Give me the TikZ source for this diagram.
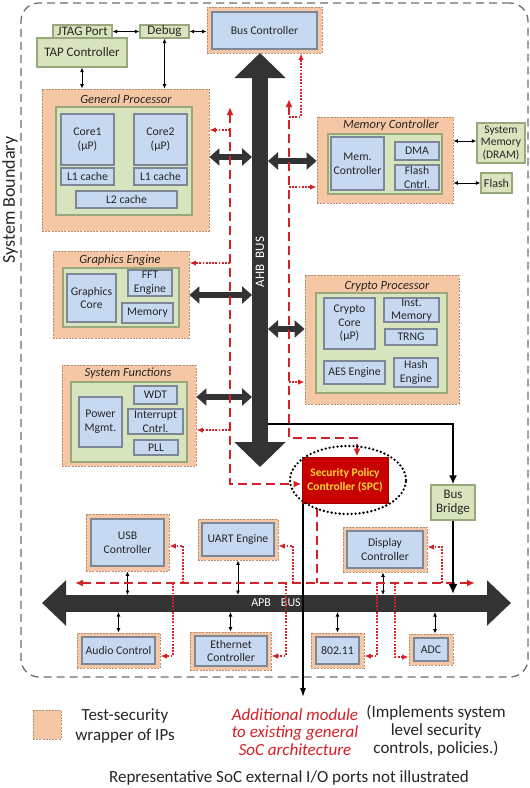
\documentclass[tikz,border=0pt]{standalone}
\usepackage{fontspec}
\setmainfont{Carlito}
\usetikzlibrary{arrows.meta,shapes.geometric}
\definecolor{wrapfill}{HTML}{F6C7A4}
\definecolor{wrapdraw}{HTML}{B48F74}
\definecolor{grnfill}{HTML}{D7E4BD}
\definecolor{grndraw}{HTML}{98A77C}
\definecolor{bluefill}{HTML}{C6D9F1}
\definecolor{bluedraw}{HTML}{7D8795}
\definecolor{busdark}{HTML}{333333}
\definecolor{secred}{HTML}{D42027}
\definecolor{spcred}{HTML}{C80000}
\definecolor{spcyel}{HTML}{FFD731}
\definecolor{txt}{HTML}{262626}
\definecolor{sysgray}{HTML}{707070}
\newcommand\bx[7]{\node[#1, minimum width={#5-#3}, minimum height={#6-#4}] (#2) at ({(#3+#5)/2},{(#4+#6)/2}) {#7};}
\begin{document}
\begin{tikzpicture}[x=1pt,y=-1pt,
  sysb/.style={draw=sysgray, line width=1.3pt, dash pattern=on 8pt off 5pt, rounded corners=18pt, inner sep=0pt},
  wrap/.style={draw=wrapdraw, fill=wrapfill, line width=0.9pt, dash pattern=on 2pt off 1.2pt, inner sep=0pt},
  ing/.style={draw=grndraw, fill=grnfill, line width=1.2pt, inner sep=0pt},
  blu/.style={draw=bluedraw, fill=bluefill, line width=1.2pt, inner sep=0pt, align=center, text=txt, font=\fontsize{11.7}{13.6}\selectfont},
  grn/.style={draw=grndraw, fill=grnfill, line width=1.2pt, inner sep=0pt, align=center, text=txt, font=\fontsize{13}{14.5}\selectfont},
  ttl/.style={text=txt, font=\fontsize{12.5}{14}\selectfont\itshape, inner sep=0pt},
  fat/.style={draw=busdark, line width=6pt, {Triangle[width=17pt,length=10pt]}-{Triangle[width=17pt,length=10pt]}},
  ahb/.style={draw=busdark, line width=16pt, {Triangle[width=50pt,length=25pt]}-{Triangle[width=50pt,length=25pt]}},
  apb/.style={draw=busdark, line width=17pt, {Triangle[width=44pt,length=24pt]}-{Triangle[width=44pt,length=24pt]}},
  buslbl/.style={text=white, inner sep=0pt},
  dbl/.style={draw=black, line width=0.9pt, {Latex[length=4.5pt,width=4pt]}-{Latex[length=4.5pt,width=4pt]}},
  rdash/.style={draw=secred, line width=1.6pt, dash pattern=on 9pt off 5pt},
  rdot/.style={draw=secred, line width=1.4pt, dash pattern=on 1.8pt off 1.4pt},
  rtip/.style={-{Latex[length=6.5pt,width=5.5pt]}},
  rtips/.style={{Latex[length=8pt,width=7pt]}-{Latex[length=8pt,width=7pt]}},
  spcbox/.style={draw=spcred!80!black, fill=spcred, line width=1pt, inner sep=0pt, align=center, text=spcyel, font=\fontsize{11.5}{14}\selectfont\bfseries},
  legtxt/.style={text=txt, align=center, inner sep=0pt, font=\fontsize{17}{19}\selectfont}]
\useasboundingbox (0,0) rectangle (530,788);
\fill[white] (0,0) rectangle (530,788);

% system boundary
\bx{sysb}{sysbound}{21}{3}{528}{677}{}
\node[rotate=90, text=txt, inner sep=0pt, font=\fontsize{18}{20}\selectfont] (sysblabel) at (10,200) {System Boundary};

% JTAG / TAP / Debug
\bx{grn}{tap}{37}{38}{127}{67}{TAP Controller}
\bx{grn}{jtag}{53}{25}{112}{38}{JTAG Port}
\bx{grn}{debug}{140}{25}{189}{38}{Debug}

% Bus controller
\bx{wrap}{bcw}{207}{7}{322}{53}{}
\bx{blu}{bc}{212}{12}{317}{49}{Bus Controller}

% General processor
\bx{wrap}{gpw}{42}{89}{209}{231}{}
\node[ttl] (gpt) at (126,99) {General Processor};
\bx{ing}{gpg}{56}{107}{192}{215}{}
\bx{blu}{core1}{61}{114}{114}{165}{Core1\\(µP)}
\bx{blu}{core2}{134}{114}{187}{165}{Core2\\(µP)}
\bx{blu}{l1a}{61}{168}{114}{185}{L1 cache}
\bx{blu}{l1b}{134}{168}{187}{185}{L1 cache}
\bx{blu}{l2}{76}{191}{177}{208}{L2 cache}

% Memory controller
\bx{wrap}{mcw}{317}{117}{453}{203}{}
\node[ttl] (mct) at (391,125) {Memory Controller};
\bx{ing}{mcg}{328}{134}{442}{194}{}
\bx{blu}{memc}{331}{137}{384}{190}{Mem.\\Controller}
\bx{blu}{dma}{395}{142}{439}{160}{DMA}
\bx{blu}{flc}{395}{165}{439}{190}{Flash\\Cntrl.}
\bx{grn, font=\fontsize{11.5}{12.8}\selectfont}{dram}{477}{123}{525}{163}{System\\Memory\\(DRAM)}
\bx{grn, font=\fontsize{12}{13}\selectfont}{flash}{481}{173}{512}{193}{Flash}

% Graphics engine
\bx{wrap}{gew}{53}{251}{189}{338}{}
\node[ttl] (get) at (120,260) {Graphics Engine};
\bx{ing}{geg}{63}{268}{179}{327}{}
\bx{blu}{gcore}{67}{274}{116}{322}{Graphics\\Core}
\bx{blu}{fft}{128}{270}{172}{296}{FFT\\Engine}
\bx{blu}{gmem}{122}{303}{173}{323}{Memory}

% Crypto processor
\bx{wrap}{cpw}{305}{275}{459}{404}{}
\node[ttl] (cpt) at (387,286) {Crypto Processor};
\bx{ing}{cpg}{316}{293}{447}{393}{}
\bx{blu}{ccore}{324}{298}{375}{349}{Crypto\\Core\\(µP)}
\bx{blu}{imem}{384}{298}{439}{322}{Inst.\\Memory}
\bx{blu}{trng}{385}{329}{437}{345}{TRNG}
\bx{blu}{aes}{324}{361}{385}{384}{AES Engine}
\bx{blu}{hash}{394}{358}{438}{387}{Hash\\Engine}

% System functions
\bx{wrap}{sfw}{62}{365}{196}{466}{}
\node[ttl] (sft) at (128,373) {System Functions};
\bx{ing}{sfg}{71}{382}{187}{462}{}
\bx{blu}{pwr}{79}{397}{122}{447}{Power\\Mgmt.}
\bx{blu}{wdt}{134}{386}{177}{404}{WDT}
\bx{blu}{intc}{128}{409}{183}{434}{Interrupt\\Cntrl.}
\bx{blu}{pll}{134}{440}{178}{455}{PLL}

% APB peripherals
\bx{wrap}{usbw}{86}{514}{169}{571}{}
\bx{blu}{usb}{91}{519}{164}{566}{USB\\Controller}
\bx{wrap}{uartw}{198}{519}{278}{560}{}
\bx{blu}{uart}{202}{523}{274}{556}{UART Engine}
\bx{wrap}{dispw}{343}{527}{427}{572}{}
\bx{blu}{disp}{347}{531}{423}{568}{Display\\Controller}
\bx{wrap}{audw}{77}{633}{160}{668}{}
\bx{blu}{aud}{82}{637}{155}{664}{Audio Control}
\bx{wrap}{ethw}{190}{632}{271}{670}{}
\bx{blu}{eth}{195}{636}{267}{666}{Ethernet\\Controller}
\bx{wrap}{wifiw}{311}{633}{364}{668}{}
\bx{blu}{wifi}{316}{637}{359}{664}{802.11}
\bx{wrap}{adcw}{409}{634}{453}{665}{}
\bx{blu}{adc}{414}{638}{448}{661}{ADC}

% SPC and bus bridge
\bx{spcbox}{spc}{302}{457}{388}{503}{Security Policy\\Controller (SPC)}
\bx{grn}{bridge}{431}{485}{475}{520}{Bus\\Bridge}

% buses
\coordinate (ahbtop) at (260,53);
\coordinate (ahbbot) at (260,467);
\draw[ahb] (ahbtop) -- (ahbbot);
\node[buslbl, rotate=90, font=\fontsize{13}{14}\selectfont] (ahbl) at (260,262) {AHB\hspace{6pt}BUS};
\coordinate (apbl) at (42,603);
\coordinate (apbr) at (511,603);
\draw[apb] (apbl) -- (apbr);
\node[buslbl, font=\fontsize{12}{13}\selectfont] (apbt) at (276,603) {APB\hspace{10pt}BUS};

% fat arrows IP <-> AHB
\draw[fat] (gpw.east |- 0,157) -- (252,157);
\draw[fat] (268,161) -- (mcw.west |- 0,161);
\draw[fat] (gew.east |- 0,295) -- (252,295);
\draw[fat] (268,329) -- (cpw.west |- 0,329);
\draw[fat] (sfw.east |- 0,397) -- (252,397);

% thin black double arrows
\draw[dbl] (jtag.east) -- (debug.west);
\draw[dbl] (debug.east) -- (bcw.west |- debug.east);
\draw[dbl] (tap.south) -- (tap.south |- gpw.north);
\draw[dbl] (debug.south) -- (debug.south |- gpw.north);
\draw[dbl] (mcw.east |- 0,141) -- (dram.west |- 0,141);
\draw[dbl] (mcw.east |- flash.west) -- (flash.west);
\draw[dbl] (usbw.south) -- (usbw.south |- 0,595);
\draw[dbl] (uartw.south) -- (uartw.south |- 0,595);
\draw[dbl] (383,0 |- dispw.south) -- (383,595);
\draw[dbl] (audw.north |- 0,612) -- (audw.north);
\draw[dbl] (ethw.north |- 0,612) -- (ethw.north);
\draw[dbl] (wifiw.north |- 0,612) -- (wifiw.north);
\draw[dbl] (435,612) -- (435,0 |- adcw.north);

% red security lines
\draw[rdash, rtips] (230,107) -- (230,484) -- (spc.west |- 0,484);
\draw[rdash, rtips] (289,99) -- (289,438) -- (357,438) -- (357,0 |- spc.north);
\draw[rdash, rtips] (75,583) -- (475,583);
\draw[rdash] (317,508) -- (317,583);

\draw[rdot, rtip] (230,130) -- (gpw.east |- 0,130);
\draw[rdot, rtip] (289,117) -- (301,117) -- (301,0 |- bcw.south);
\draw[rdot, rtip] (289,187) -- (mcw.west |- 0,187);
\draw[rdot, rtip] (230,263) -- (gew.east |- 0,263);
\draw[rdot, rtip] (289,382) -- (cpw.west |- 0,382);
\draw[rdot, rtip] (230,430) -- (sfw.east |- 0,430);
\draw[rdot, rtip] (183,583) -- (183,546) -- (usbw.east |- 0,546);
\draw[rdot, rtip] (173,583) -- (173,656) -- (audw.east |- 0,656);
\draw[rdot, rtip] (293,583) -- (293,546) -- (uartw.east |- 0,546);
\draw[rdot, rtip] (286,583) -- (286,656) -- (ethw.east |- 0,656);
\draw[rdot, rtip] (442,583) -- (442,547) -- (dispw.east |- 0,547);
\draw[rdot, rtip] (377,583) -- (377,656) -- (wifiw.east |- 0,656);
\draw[rdot, rtip] (395,583) -- (395,657) -- (adcw.west |- 0,657);

% SPC ring
\node[ellipse, draw=black, line width=2.6pt, dash pattern=on 0pt off 4pt, line cap=round, minimum width=116pt, minimum height=68pt, inner sep=0pt] (spcring) at (348,480) {};

% black lines
\draw[black, line width=2pt, -{Latex[length=9pt,width=8pt]}] (268,424) -- (453,424) -- (bridge.north);
\draw[black, line width=2.8pt, -{Latex[length=10pt,width=9pt]}] (bridge.south) -- (453,594);
\draw[black, line width=1.2pt, -{Latex[length=9pt,width=6pt]}] (303,0 |- spc.south) -- (303,697);

% legend and notes
\node[wrap, minimum width=28pt, minimum height=29pt] (legbox) at (47,724.5) {};
\node[legtxt, font=\fontsize{17}{20}\selectfont] (legtext) at (125,726) {Test-security\\wrapper of IPs};
\node[legtxt, text=secred, font=\fontsize{17}{17.5}\selectfont\itshape] (addl) at (295,732) {Additional module\\to existing general\\SoC architecture};
\node[legtxt, font=\fontsize{17}{18}\selectfont] (impl) at (436,731) {(Implements system\\level security\\controls, policies.)};
\node[legtxt] (repr) at (289,778) {Representative SoC external I/O ports not illustrated};
\end{tikzpicture}
\end{document}
